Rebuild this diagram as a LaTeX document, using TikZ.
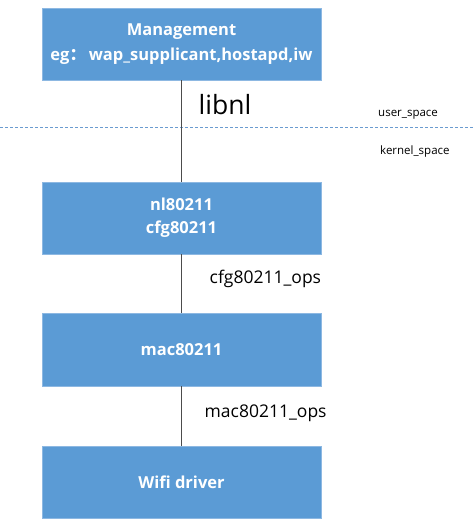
\documentclass[tikz,border=0pt]{standalone}
\usepackage{fontspec}
\setmainfont{Open Sans}
\newfontfamily\cjk{Noto Sans CJK SC}
\usetikzlibrary{shadows}
\definecolor{boxblue}{HTML}{5B9BD5}
\definecolor{boxedge}{HTML}{8DB8E2}
\definecolor{dashblue}{HTML}{6A9BD0}
\tikzset{
  layer/.style={draw=boxedge, line width=0.6pt, fill=boxblue, minimum width=279pt, inner sep=0pt,
    text=white, font=\bfseries\fontsize{16.5}{25}\selectfont, align=center,
    drop shadow={shadow xshift=1.2pt, shadow yshift=-1.2pt, fill=black!25, opacity=0.5}},
  link/.style={draw=black!70, line width=0.8pt},
  lbl/.style={font=\fontsize{17.5}{20}\selectfont, anchor=base west, inner sep=0pt},
  small/.style={font=\fontsize{11.5}{14}\selectfont, anchor=base west, inner sep=0pt}
}
\begin{document}
\begin{tikzpicture}[x=1pt,y=-1pt]
\useasboundingbox (0,0) rectangle (474,526);
\fill[white] (0,0) rectangle (474,526);
\coordinate (dl) at (0,127);
\coordinate (dr) at (474,127);
\draw[dashblue, dash pattern=on 3pt off 2pt, line width=0.8pt] (dl) -- (dr);
\node[layer, minimum height=72pt] (mgmt) at (181.5,44) {Management\\eg{\cjk\bfseries ：}\,wap\_supplicant,hostapd,iw};
\node[layer, minimum height=72pt, font=\bfseries\fontsize{16.5}{23}\selectfont] (nl) at (181.5,218) {nl80211\\cfg80211};
\node[layer, minimum height=73pt] (mac) at (181.5,349.5) {mac80211};
\node[layer, minimum height=72pt] (drv) at (181.5,482) {Wifi driver};
\draw[link] (mgmt) -- (nl);
\draw[link] (nl) -- (mac);
\draw[link] (mac) -- (drv);
\node[font=\fontsize{26.5}{30}\selectfont, anchor=base west, inner sep=0pt] (libnl) at (198.5,115) {libnl};
\node[small] (us) at (378,117) {user\_space};
\node[small] (ks) at (380,155) {kernel\_space};
\node[lbl] (cops) at (209.5,283) {cfg80211\_ops};
\node[lbl] (mops) at (204.5,417) {mac80211\_ops};
\end{tikzpicture}
\end{document}
